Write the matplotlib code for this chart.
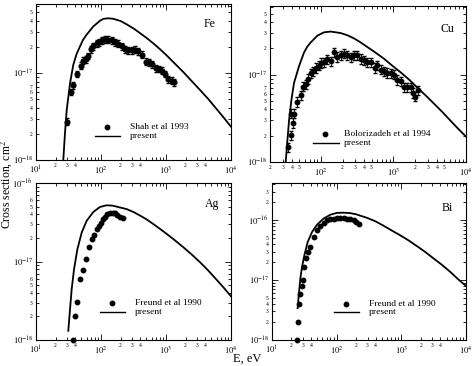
import numpy as np
import matplotlib
matplotlib.use("Agg")
import matplotlib.pyplot as plt
from matplotlib.ticker import FixedLocator, FuncFormatter

plt.rcParams["font.family"] = "serif"
plt.rcParams["font.serif"] = ["Liberation Serif", "DejaVu Serif"]
plt.rcParams["mathtext.fontset"] = "stix"

# ---- Fe ----
fe_curve_e = [26.3, 27.9, 29.7, 33.4, 37.5, 42, 47.5, 53, 60.1, 76.2, 96.5, 109, 130, 155,
              200, 248, 320, 398, 500, 638, 800, 1023, 1350, 1845, 2450, 3334, 4400, 6026,
              7800, 10000]
fe_curve_s = [1.0e-18, 2.03e-18, 3.77e-18, 7.67e-18, 1.25e-17, 1.65e-17, 2.03e-17, 2.42e-17,
              2.77e-17, 3.45e-17, 4.01e-17, 4.22e-17, 4.28e-17, 4.22e-17, 3.98e-17, 3.65e-17,
              3.25e-17, 2.89e-17, 2.55e-17, 2.2e-17, 1.9e-17, 1.6e-17, 1.3e-17, 1.03e-17,
              8.2e-18, 6.4e-18, 5.1e-18, 3.85e-18, 3.05e-18, 2.42e-18]
fe_exp_e = [29.6, 34.5, 37.5, 43.2, 48.7, 53.5, 58.7, 63.8, 69.3, 76.2, 85.7, 94.2, 102, 115,
            130, 146, 164, 185, 208, 234, 263, 296, 333, 375, 422, 487, 547, 616, 693, 780,
            878, 966, 1087, 1222, 1328]
fe_exp_s = [2.77e-18, 6.1e-18, 7.3e-18, 9.8e-18, 1.22e-17, 1.39e-17, 1.45e-17, 1.58e-17,
            1.89e-17, 2.03e-17, 2.22e-17, 2.26e-17, 2.38e-17, 2.47e-17, 2.43e-17, 2.38e-17,
            2.26e-17, 2.18e-17, 2.03e-17, 1.89e-17, 1.83e-17, 1.83e-17, 1.86e-17, 1.78e-17,
            1.63e-17, 1.36e-17, 1.33e-17, 1.27e-17, 1.14e-17, 1.12e-17, 1.07e-17, 9.8e-18,
            8.5e-18, 8.2e-18, 7.9e-18]
fe_err = 0.09

# ---- Cu ----
cu_curve_e = [32.9, 34.7, 36.6, 39.4, 42.8, 50.2, 58.8, 65, 72.6, 89.7, 111, 137, 188, 230,
              287, 350, 438, 560, 743, 950, 1262, 1650, 2138, 2800, 3628, 4700, 6166, 7800,
              10000]
cu_curve_s = [1.0e-18, 1.75e-18, 3.0e-18, 5.1e-18, 8.0e-18, 1.25e-17, 1.79e-17, 2.08e-17,
              2.33e-17, 2.79e-17, 3.05e-17, 3.11e-17, 2.99e-17, 2.83e-17, 2.6e-17, 2.35e-17,
              2.07e-17, 1.8e-17, 1.52e-17, 1.28e-17, 1.06e-17, 8.75e-18, 7.1e-18, 5.75e-18,
              4.65e-18, 3.75e-18, 2.95e-18, 2.4e-18, 1.95e-18]
cu_exp_e = [35.7, 38.6, 39.4, 41.9, 42.8, 47.5, 52.8, 57, 62, 66.7, 72.6, 79, 86, 93.6, 102,
            111, 123, 137, 152, 169, 188, 209, 232, 258, 287, 319, 355, 394, 438, 487, 553,
            601, 668, 743, 826, 918, 1021, 1135, 1262, 1403, 1560, 1734, 1885, 1986, 2208]
cu_exp_s = [1.47e-18, 2.04e-18, 3.58e-18, 2.82e-18, 3.58e-18, 4.9e-18, 5.85e-18, 7.3e-18,
            7.8e-18, 8.98e-18, 1.03e-17, 1.09e-17, 1.2e-17, 1.27e-17, 1.37e-17, 1.4e-17,
            1.49e-17, 1.43e-17, 1.82e-17, 1.6e-17, 1.66e-17, 1.74e-17, 1.66e-17, 1.59e-17,
            1.68e-17, 1.68e-17, 1.52e-17, 1.47e-17, 1.39e-17, 1.39e-17, 1.2e-17, 1.28e-17,
            1.14e-17, 1.09e-17, 1.05e-17, 1.03e-17, 1.0e-17, 8.75e-18, 8.37e-18, 7.2e-18,
            7.2e-18, 7.2e-18, 6.2e-18, 5.6e-18, 6.7e-18]
cu_err = 0.12

# ---- Ag ----
ag_curve_e = [31.4, 33.4, 35.4, 38.5, 43.3, 50.5, 60.1, 76.2, 96.5, 122, 150, 174, 248, 320,
              398, 500, 638, 800, 1023, 1350, 1848, 2450, 3334, 4450, 6012, 7800, 10000]
ag_curve_s = [1.31e-18, 2.48e-18, 4.45e-18, 8.0e-18, 1.43e-17, 2.34e-17, 3.29e-17, 4.28e-17,
              4.95e-17, 5.2e-17, 5.15e-17, 5.0e-17, 4.65e-17, 4.25e-17, 3.85e-17, 3.45e-17,
              3.0e-17, 2.62e-17, 2.25e-17, 1.88e-17, 1.52e-17, 1.24e-17, 9.8e-18, 7.7e-18,
              5.85e-18, 4.6e-18, 3.6e-18]
ag_exp_e = [37.5, 39.8, 42.3, 47.5, 52.2, 58.8, 64.5, 71.8, 78.9, 85.7, 92, 98.8, 106, 115,
            125, 137, 151, 164, 178, 196, 215]
ag_exp_s = [1.0e-18, 2.0e-18, 3.01e-18, 5.96e-18, 7.8e-18, 1.09e-17, 1.51e-17, 1.92e-17,
            2.16e-17, 2.58e-17, 2.84e-17, 3.13e-17, 3.45e-17, 3.73e-17, 4.0e-17, 4.2e-17,
            4.2e-17, 4.11e-17, 3.96e-17, 3.73e-17, 3.59e-17]

# ---- Bi ----
bi_curve_e = [24.9, 26.2, 27.4, 29.1, 31.6, 35.6, 41.6, 49.7, 63, 79.8, 101, 128, 160, 200,
              294, 400, 533, 720, 966, 1300, 1746, 2350, 3162, 4250, 5728, 7600, 10000]
bi_curve_s = [3.4e-18, 6.3e-18, 1.05e-17, 1.65e-17, 2.59e-17, 4.33e-17, 6.37e-17, 8.46e-17,
              1.07e-16, 1.24e-16, 1.33e-16, 1.34e-16, 1.32e-16, 1.26e-16, 1.1e-16, 9.6e-17,
              8.1e-17, 6.7e-17, 5.6e-17, 4.6e-17, 3.7e-17, 2.95e-17, 2.3e-17, 1.8e-17,
              1.37e-17, 1.03e-17, 8.0e-18]
bi_exp_e = [24.4, 24.9, 26.5, 27.4, 29.1, 30.2, 31.6, 33.6, 36.5, 39.2, 44.1, 49.7, 55.9, 63,
            70.9, 79.8, 89.9, 101, 114, 128, 145, 163, 183, 201, 219]
bi_exp_s = [1.0e-18, 1.98e-18, 4.0e-18, 5.9e-18, 8.1e-18, 9.9e-18, 1.65e-17, 2.34e-17,
            2.95e-17, 3.57e-17, 5.26e-17, 6.8e-17, 8.0e-17, 9.0e-17, 1.0e-16, 1.07e-16,
            1.07e-16, 1.09e-16, 1.09e-16, 1.09e-16, 1.07e-16, 1.04e-16, 1.0e-16, 9.38e-17,
            8.8e-17]

W, H = 474, 366
fig = plt.figure(figsize=(W / 100, H / 100), dpi=100)


def add_panel(left, top, right, bottom):
    return fig.add_axes([left / W, (H - bottom) / H, (right - left) / W, (bottom - top) / H])


def log_ticks(lo, hi, subs):
    # tick positions inside [lo, hi] only, so no labels sit outside the frame
    out = []
    for p in range(int(np.floor(np.log10(lo))), int(np.ceil(np.log10(hi))) + 1):
        for m in subs:
            v = m * 10.0 ** p
            if lo * 0.999 <= v <= hi * 1.001:
                out.append(v)
    return out


def major_fmt(v, pos):
    return r"$10^{%d}$" % int(round(np.log10(v)))


def minor_fmt(shown, vmax):
    def f(v, pos):
        if v > 0.9 * vmax:
            return ""
        d = int(round(v / 10 ** np.floor(np.log10(v) + 1e-9)))
        return str(d) if d in shown else ""
    return FuncFormatter(f)


def setup(ax, xlim, ylim, xshow, yshow):
    ax.set_xscale("log")
    ax.set_yscale("log")
    ax.set_xlim(*xlim)
    ax.set_ylim(*ylim)
    for axis, show, lim, lim_lab in ((ax.xaxis, xshow, xlim, xlim[1] * 1.2),
                                     (ax.yaxis, yshow, ylim, ylim[1])):
        axis.set_major_locator(FixedLocator(log_ticks(lim[0], lim[1], [1])))
        axis.set_minor_locator(FixedLocator(log_ticks(lim[0], lim[1], range(2, 10))))
        axis.set_major_formatter(FuncFormatter(major_fmt))
        axis.set_minor_formatter(minor_fmt(show, lim_lab))
    ax.tick_params(which="both", direction="in", top=True, right=True, width=0.6)
    ax.tick_params(which="major", length=4, labelsize=6.2, pad=2)
    ax.tick_params(which="minor", length=2, labelsize=4, pad=2.5)
    ax.tick_params(axis="x", which="major", pad=3)
    for s in ax.spines.values():
        s.set_linewidth(0.8)


def legend(ax, mx, my, lx0, lx1, ly, tx, label):
    ax.plot([mx], [my], "o", color="k", ms=3.2, transform=ax.transAxes)
    ax.plot([lx0, lx1], [ly, ly], "-", color="k", lw=1.0, transform=ax.transAxes)
    ax.text(tx, my, label, transform=ax.transAxes, fontsize=6.8, va="center")
    ax.text(tx, ly, "present", transform=ax.transAxes, fontsize=6.8, va="center")


# Fe
ax = add_panel(36, 4, 231, 160)
setup(ax, (10, 1e4), (1e-18, 6.25e-17), {2, 3, 4}, {2, 3, 4, 5, 6, 7})
ax.plot(fe_curve_e, fe_curve_s, "k-", lw=1.3)
fe_s = np.array(fe_exp_s)
ax.errorbar(fe_exp_e, fe_s, yerr=fe_s * fe_err, fmt="o", color="k", ms=3.4,
            elinewidth=0.6, capsize=1.2)
ax.text(0.892, 0.872, "Fe", transform=ax.transAxes, fontsize=8.5, ha="center", va="center")
legend(ax, 0.364, 0.212, 0.303, 0.431, 0.154, 0.482, "Shah et al 1993")

# Cu
ax = add_panel(270, 6, 466, 162)
setup(ax, (20, 1e4), (1e-18, 6.1e-17), {2, 3, 4, 5}, {2, 3, 4, 5, 6, 7})
ax.plot(cu_curve_e, cu_curve_s, "k-", lw=1.3)
cu_s = np.array(cu_exp_s)
ax.errorbar(cu_exp_e, cu_s, yerr=cu_s * cu_err, fmt="o", color="k", ms=3.2,
            elinewidth=0.6, capsize=1.2)
ax.text(0.903, 0.853, "Cu", transform=ax.transAxes, fontsize=8.5, ha="center", va="center")
legend(ax, 0.281, 0.178, 0.219, 0.352, 0.123, 0.378, "Bolorizadeh et al 1994")

# Ag
ax = add_panel(36, 183, 231, 340)
setup(ax, (10, 1e4), (1e-18, 1e-16), {2, 3, 4}, {2, 3, 4, 5, 6})
ax.plot(ag_curve_e, ag_curve_s, "k-", lw=1.3)
ax.plot(ag_exp_e, ag_exp_s, "o", color="k", ms=3.2, clip_on=False)
ax.text(0.903, 0.866, "Ag", transform=ax.transAxes, fontsize=8.5, ha="center", va="center")
legend(ax, 0.39, 0.236, 0.328, 0.456, 0.178, 0.508, "Freund et al 1990")

# Bi
ax = add_panel(272, 183, 466, 340)
setup(ax, (10, 1e4), (1e-18, 4.2e-16), {2, 3, 4}, {2, 3, 4, 5})
ax.plot(bi_curve_e, bi_curve_s, "k-", lw=1.3)
ax.plot(bi_exp_e, bi_exp_s, "o", color="k", ms=3.2, clip_on=False)
ax.text(0.902, 0.84, "Bi", transform=ax.transAxes, fontsize=8.5, ha="center", va="center")
legend(ax, 0.381, 0.229, 0.32, 0.448, 0.178, 0.5, "Freund et al 1990")

fig.text(6.5 / W, 1 - 184 / H, "Cross section, cm$^2$", rotation=90, fontsize=8.5,
         ha="center", va="center")
fig.text(247 / W, 1 - 359 / H, "E, eV", fontsize=9, ha="center", va="center")

fig.savefig("out.png", dpi=100)
